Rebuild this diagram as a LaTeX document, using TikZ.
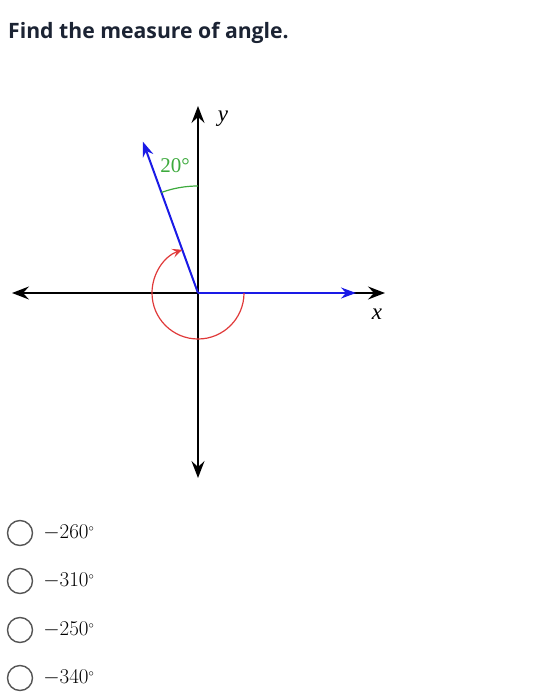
\documentclass[tikz,border=0pt]{standalone}
\usepackage{fix-cm}
\usepackage{fontspec}
\newfontfamily\titlefont{Open Sans}
\newfontfamily\labelfont{Liberation Serif}
\usetikzlibrary{arrows.meta,positioning,calc}
\definecolor{titleblue}{HTML}{1B2333}
\definecolor{anglegreen}{HTML}{3DAA3D}
\definecolor{rayblue}{HTML}{1A1AE6}
\definecolor{arcred}{HTML}{E03A3A}
\definecolor{optgray}{HTML}{555555}

\begin{document}
\begin{tikzpicture}[x=1pt,y=1pt,
  axis/.style={line width=1.6pt,{Stealth[length=17pt,width=13pt,inset=6pt]}-{Stealth[length=17pt,width=13pt,inset=6pt]}},
  ray/.style={rayblue,line width=2pt,-{Stealth[length=15pt,width=11pt,inset=5pt]}},
  option/.style={draw=optgray,line width=1.4pt,circle,minimum size=25pt,inner sep=0pt},
  answer/.style={anchor=west,inner sep=0pt,font=\fontsize{21}{24}\selectfont}]
\useasboundingbox (0,0) rectangle (535,-700);
% title
\node[anchor=base west,inner sep=0pt,text=titleblue,font=\titlefont\bfseries\fontsize{21.2}{24}\selectfont] (title) at (8,-39) {Find the measure of angle.};
% axes
\coordinate (O) at (198,-293);
\coordinate (xl) at (12,-293);
\coordinate (xr) at (385,-293);
\coordinate (yt) at (198,-106);
\coordinate (yb) at (198,-478);
\draw[axis] (xl) -- (xr);
\draw[axis] (yb) -- (yt);
\node[font=\labelfont\itshape\fontsize{23}{24}\selectfont] (ylab) at (223,-119) {y};
\node[font=\labelfont\itshape\fontsize{23}{24}\selectfont] (xlab) at (377,-314) {x};
% sides of the angle
\coordinate (xb) at (356,-293);
\coordinate (tip) at ($(O)+(110:161)$);
\draw[ray] (O) -- (xb);
\draw[ray] (O) -- (tip);
% arcs
\draw[anglegreen,line width=1.2pt] (O) ++(90:107) arc[start angle=90,end angle=110,radius=107];
\node[text=anglegreen,font=\labelfont\fontsize{21}{24}\selectfont] (deg) at (175,-166) {20°};
\draw[arcred,line width=1.2pt,-{Stealth[length=10pt,width=9pt,inset=4pt]}] (O) ++(0:46) arc[start angle=0,end angle=-250,radius=46];
% choices
\node[option] (c1) at (20,-533) {};
\node[option] (c2) at (20,-581) {};
\node[option] (c3) at (20,-630) {};
\node[option] (c4) at (20,-678) {};
\node[answer,right=10pt of c1] (a1) {$-260^{\scriptscriptstyle\circ}$};
\node[answer,right=10pt of c2] (a2) {$-310^{\scriptscriptstyle\circ}$};
\node[answer,right=10pt of c3] (a3) {$-250^{\scriptscriptstyle\circ}$};
\node[answer,right=10pt of c4] (a4) {$-340^{\scriptscriptstyle\circ}$};
\end{tikzpicture}
\end{document}
